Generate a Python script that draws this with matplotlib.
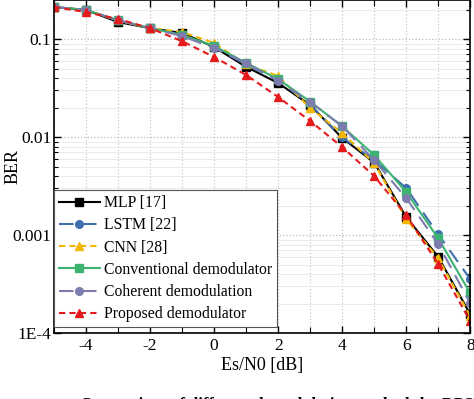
import numpy as np
import matplotlib
matplotlib.use("Agg")
import matplotlib.pyplot as plt
from matplotlib.ticker import MultipleLocator, FixedLocator, LogLocator, NullFormatter

plt.rcParams['font.family'] = ['Liberation Serif', 'DejaVu Serif']
plt.rcParams['axes.unicode_minus'] = False

# Es/N0 in dB
snr = [-5, -4, -3, -2, -1, 0, 1, 2, 3, 4, 5, 6, 7, 8]

# BER
ber_mlp  = [0.212, 0.198, 0.149, 0.129, 0.115, 0.083, 0.052, 0.0356, 0.0212, 0.0098, 0.0055, 0.00153, 0.00060, 0.000156]
ber_lstm = [0.212, 0.198, 0.155, 0.129, 0.110, 0.082, 0.055, 0.038, 0.0215, 0.0099, 0.0058, 0.00302, 0.00102, 0.000356]
ber_cnn  = [0.212, 0.198, 0.155, 0.129, 0.118, 0.091, 0.055, 0.042, 0.0198, 0.0110, 0.0054, 0.00146, 0.00058, 0.000150]
ber_conv = [0.212, 0.198, 0.155, 0.129, 0.110, 0.085, 0.057, 0.039, 0.0230, 0.0129, 0.00655, 0.00275, 0.00093, 0.000256]
ber_coh  = [0.212, 0.198, 0.155, 0.129, 0.107, 0.081, 0.057, 0.0373, 0.0227, 0.0129, 0.0058, 0.00239, 0.00081, 0.000202]
ber_prop = [0.212, 0.188, 0.160, 0.129, 0.095, 0.0655, 0.043, 0.0256, 0.0146, 0.0079, 0.0040, 0.0016, 0.000506, 0.000133]

ytick_vals = [0.1, 0.01, 0.001, 1e-4]
ytick_labels = ["0.1", "0.01", "0.001", "1E-4"]

fig = plt.figure(figsize=(4.74, 3.99), dpi=100)
ax = fig.add_axes([0.114, 0.165, 0.878, 0.835])

series = [
    (ber_mlp,  "MLP [17]",                 "black",   "-",            "s"),
    (ber_lstm, "LSTM [22]",                "#3f6fae", (0, (7, 4)),    "o"),
    (ber_cnn,  "CNN [28]",                 "#f2b705", (0, (3, 2)),    "^"),
    (ber_conv, "Conventional demodulator", "#3cb371", "-",            "s"),
    (ber_coh,  "Coherent demodulation",    "#7c7cae", (0, (7, 4)),    "o"),
    (ber_prop, "Proposed demodulator",     "#e41a1c", (0, (3, 2)),    "^"),
]
for ys, lab, col, ls, mk in series:
    ax.plot(snr, ys, color=col, linestyle=ls, linewidth=1.5, marker=mk,
            markersize=5.5, label=lab)

ax.set_yscale('log')
ax.set_xlim(-5, 8)
ax.set_ylim(1e-4, 0.25)

ax.xaxis.set_major_locator(MultipleLocator(2))
ax.xaxis.set_minor_locator(MultipleLocator(1))
ax.yaxis.set_major_locator(FixedLocator(ytick_vals))
ax.set_yticklabels(ytick_labels)
ax.yaxis.set_minor_locator(LogLocator(base=10, subs=np.arange(2, 10)))
ax.yaxis.set_minor_formatter(NullFormatter())

ax.tick_params(which='both', direction='in', top=True, right=True, labelsize=12.5)
ax.tick_params(which='major', length=5, width=1)
ax.tick_params(which='minor', length=3, width=0.8)
ax.tick_params(axis='x', which='minor', length=4)
ax.tick_params(axis='y', pad=2)

ax.grid(True, which='major', axis='y', color='#bbbbbb', linestyle=':', linewidth=0.9)
ax.grid(True, which='minor', axis='y', color='#e6e6e6', linestyle='-', linewidth=0.6)
ax.grid(True, which='both', axis='x', color='#c8c8c8', linestyle=':', linewidth=0.9)
ax.set_axisbelow(True)
for sp in ax.spines.values():
    sp.set_linewidth(1.2)

ax.set_xlabel("Es/N0 [dB]", fontsize=13, labelpad=2)
ax.set_ylabel("BER", fontsize=13)
ax.yaxis.set_label_coords(-0.077, 0.5)

leg = ax.legend(loc='lower left', bbox_to_anchor=(0.0, 0.018), borderaxespad=0,
                fontsize=11.3, numpoints=1, handlelength=2.6, labelspacing=0.4,
                handletextpad=0.3, borderpad=0.3, fancybox=False, framealpha=1)
leg.get_frame().set_edgecolor('#555555')
leg.get_frame().set_linewidth(0.8)

fig.text(0.169, 0.004, "Comparison of different demodulation methods by DPSK",
         fontsize=12, fontweight='bold', va='top', ha='left')

fig.savefig("out.png", dpi=100)
